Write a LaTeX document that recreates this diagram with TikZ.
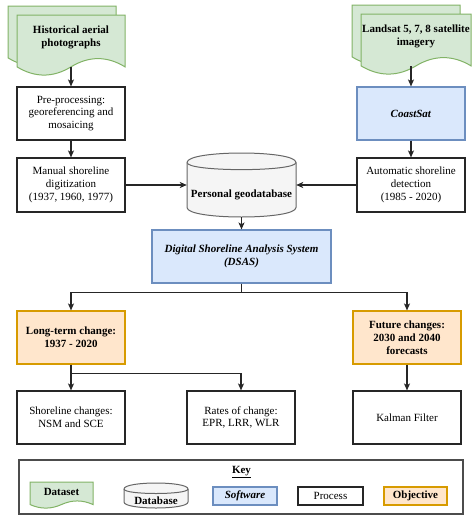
\documentclass[tikz,border=0pt]{standalone}
\usepackage{fontspec}
\setmainfont{Liberation Serif}
\usetikzlibrary{arrows.meta,calc}
\definecolor{gfill}{HTML}{D5E8D4}\definecolor{gline}{HTML}{82B366}
\definecolor{bfill}{HTML}{DAE8FC}\definecolor{bline}{HTML}{6C8EBF}
\definecolor{ofill}{HTML}{FFE6CC}\definecolor{oline}{HTML}{D79B00}
\definecolor{cfill}{HTML}{F5F5F5}\definecolor{cline}{HTML}{666666}
\newcommand{\docshape}[5]{%
  \pgfmathsetmacro\dsE{#3+0.85*#5}\pgfmathsetmacro\dsU{#3+0.67*#5}\pgfmathsetmacro\dsD{#3+1.03*#5}%
  \pgfmathsetmacro\dsB{#2+#4}\pgfmathsetmacro\dsCa{#2+0.8333*#4}\pgfmathsetmacro\dsCb{#2+0.6667*#4}%
  \pgfmathsetmacro\dsM{#2+0.5*#4}\pgfmathsetmacro\dsCc{#2+0.3333*#4}\pgfmathsetmacro\dsCd{#2+0.1667*#4}%
  \draw[#1] (#2,#3) -- (\dsB,#3) -- (\dsB,\dsE) .. controls (\dsCa,\dsU) and (\dsCb,\dsU) .. (\dsM,\dsE)
    .. controls (\dsCc,\dsD) and (\dsCd,\dsD) .. (#2,\dsE) -- cycle;}
\newcommand{\cylshape}[6]{%
  \pgfmathsetmacro\cyA{#3+#6}\pgfmathsetmacro\cyB{#3-#6/3}\pgfmathsetmacro\cyC{#2+#4}%
  \pgfmathsetmacro\cyD{#3+#5-#6}\pgfmathsetmacro\cyE{#3+#5+#6/3}\pgfmathsetmacro\cyF{#3+2*#6}%
  \draw[#1] (#2,\cyA) .. controls (#2,\cyB) and (\cyC,\cyB) .. (\cyC,\cyA) -- (\cyC,\cyD)
    .. controls (\cyC,\cyE) and (#2,\cyE) .. (#2,\cyD) -- cycle;
  \draw[#1] (#2,\cyA) .. controls (#2,\cyF) and (\cyC,\cyF) .. (\cyC,\cyA);}
\begin{document}
\begin{tikzpicture}[x=1pt,y=-1pt,
  every node/.style={font=\fontsize{11}{12.8}\selectfont, align=center, inner sep=1pt},
  proc/.style={draw=black!85, fill=white, line width=1.1pt, minimum width=108pt, minimum height=53pt},
  soft/.style={proc, draw=bline, fill=bfill},
  obj/.style={proc, draw=oline, fill=ofill},
  txt/.style={draw=none, minimum width=108pt},
  dstyle/.style={draw=gline, fill=gfill, line width=1pt},
  cstyle/.style={draw=cline, fill=cfill, line width=1pt},
  arr/.style={draw=black!85, line width=1.1pt, -{Stealth[length=7pt,width=6pt,inset=1.8pt]}},
  smallbox/.style={line width=1.1pt, minimum height=18pt}]
\useasboundingbox (0,0) rectangle (474,520);
% datasets
\docshape{dstyle}{8}{6}{108}{61}
\docshape{dstyle}{17}{15}{108}{61}
\node[txt, minimum height=59pt] (hist) at (71,37.5) {\textbf{Historical aerial}\\\textbf{photographs}};
\coordinate (histb) at (71,67);
\docshape{dstyle}{352}{5}{108}{61}
\docshape{dstyle}{361}{14}{110}{61}
\node[txt, minimum height=59pt] (land) at (416,36.5) {\textbf{Landsat 5, 7, 8 satellite}\\\textbf{imagery}};
\coordinate (landb) at (411,66);
% processes
\node[proc] (pre) at (71,113.5) {Pre-processing:\\georeferencing and\\mosaicing};
\node[proc, minimum height=54pt] (man) at (71,185) {Manual shoreline\\digitization\\(1937, 1960, 1977)};
\node[soft] (coast) at (411,113.5) {\textbf{\textit{CoastSat}}};
\node[proc, minimum height=54pt] (auto) at (411,185) {Automatic shoreline\\detection\\(1985 - 2020)};
\cylshape{cstyle}{187}{153}{109}{64}{9.5}
\node[txt, minimum width=109pt, minimum height=44pt] (geo) at (241.5,195) {\textbf{Personal geodatabase}};
\node[soft, minimum width=179pt] (dsas) at (241.5,256.5) {\textbf{\textit{Digital Shoreline Analysis System}}\\\textbf{\textit{(DSAS)}}};
\node[obj] (lt) at (71,337.5) {\textbf{Long-term change:}\\\textbf{1937 - 2020}};
\node[obj] (fut) at (407,337.5) {\textbf{Future changes:}\\\textbf{2030 and 2040}\\\textbf{forecasts}};
\node[proc] (sc) at (71,417.5) {Shoreline changes:\\NSM and SCE};
\node[proc] (rates) at (241,417.5) {Rates of change:\\EPR, LRR, WLR};
\node[proc] (kal) at (407,417.5) {Kalman Filter};
% connectors
\draw[arr] (histb) -- (pre.north);
\draw[arr] (pre) -- (man);
\draw[arr] (landb) -- (coast.north);
\draw[arr] (coast) -- (auto);
\draw[arr] (man.east) -- (man.east -| geo.west);
\draw[arr] (auto.west) -- (auto.west -| geo.east);
\draw[arr] (geo.south) -- (dsas.north);
\draw[arr] (dsas.south) -- ++(0,9) -| (lt.north);
\draw[arr] (dsas.south) -- ++(0,9) -| (fut.north);
\draw[arr] (lt.south) -- (sc.north);
\draw[arr] (lt.south) -- ++(0,9) -| (rates.north);
\draw[arr] (fut) -- (kal);
% key
\node[draw=black!70, line width=1.3pt, minimum width=444pt, minimum height=54pt] (keyb) at (241,487) {};
\node (keyt) at (241.5,472) {\textbf{\underline{Key}}};
\docshape{dstyle}{30}{482}{63}{26.5}
\node (kds) at (61.5,491.5) {\textbf{Dataset}};
\cylshape{cstyle}{124}{483}{64}{25}{6}
\node (kdb) at (156,500.5) {\textbf{Database}};
\node[smallbox, draw=bline, fill=bfill, minimum width=64pt] (ksw) at (245,496) {\textbf{\textit{Software}}};
\node[smallbox, draw=black!85, fill=white, minimum width=65pt] (kpr) at (330.5,496) {Process};
\node[smallbox, draw=oline, fill=ofill, minimum width=63pt] (kob) at (415.5,496) {\textbf{Objective}};
\end{tikzpicture}
\end{document}
